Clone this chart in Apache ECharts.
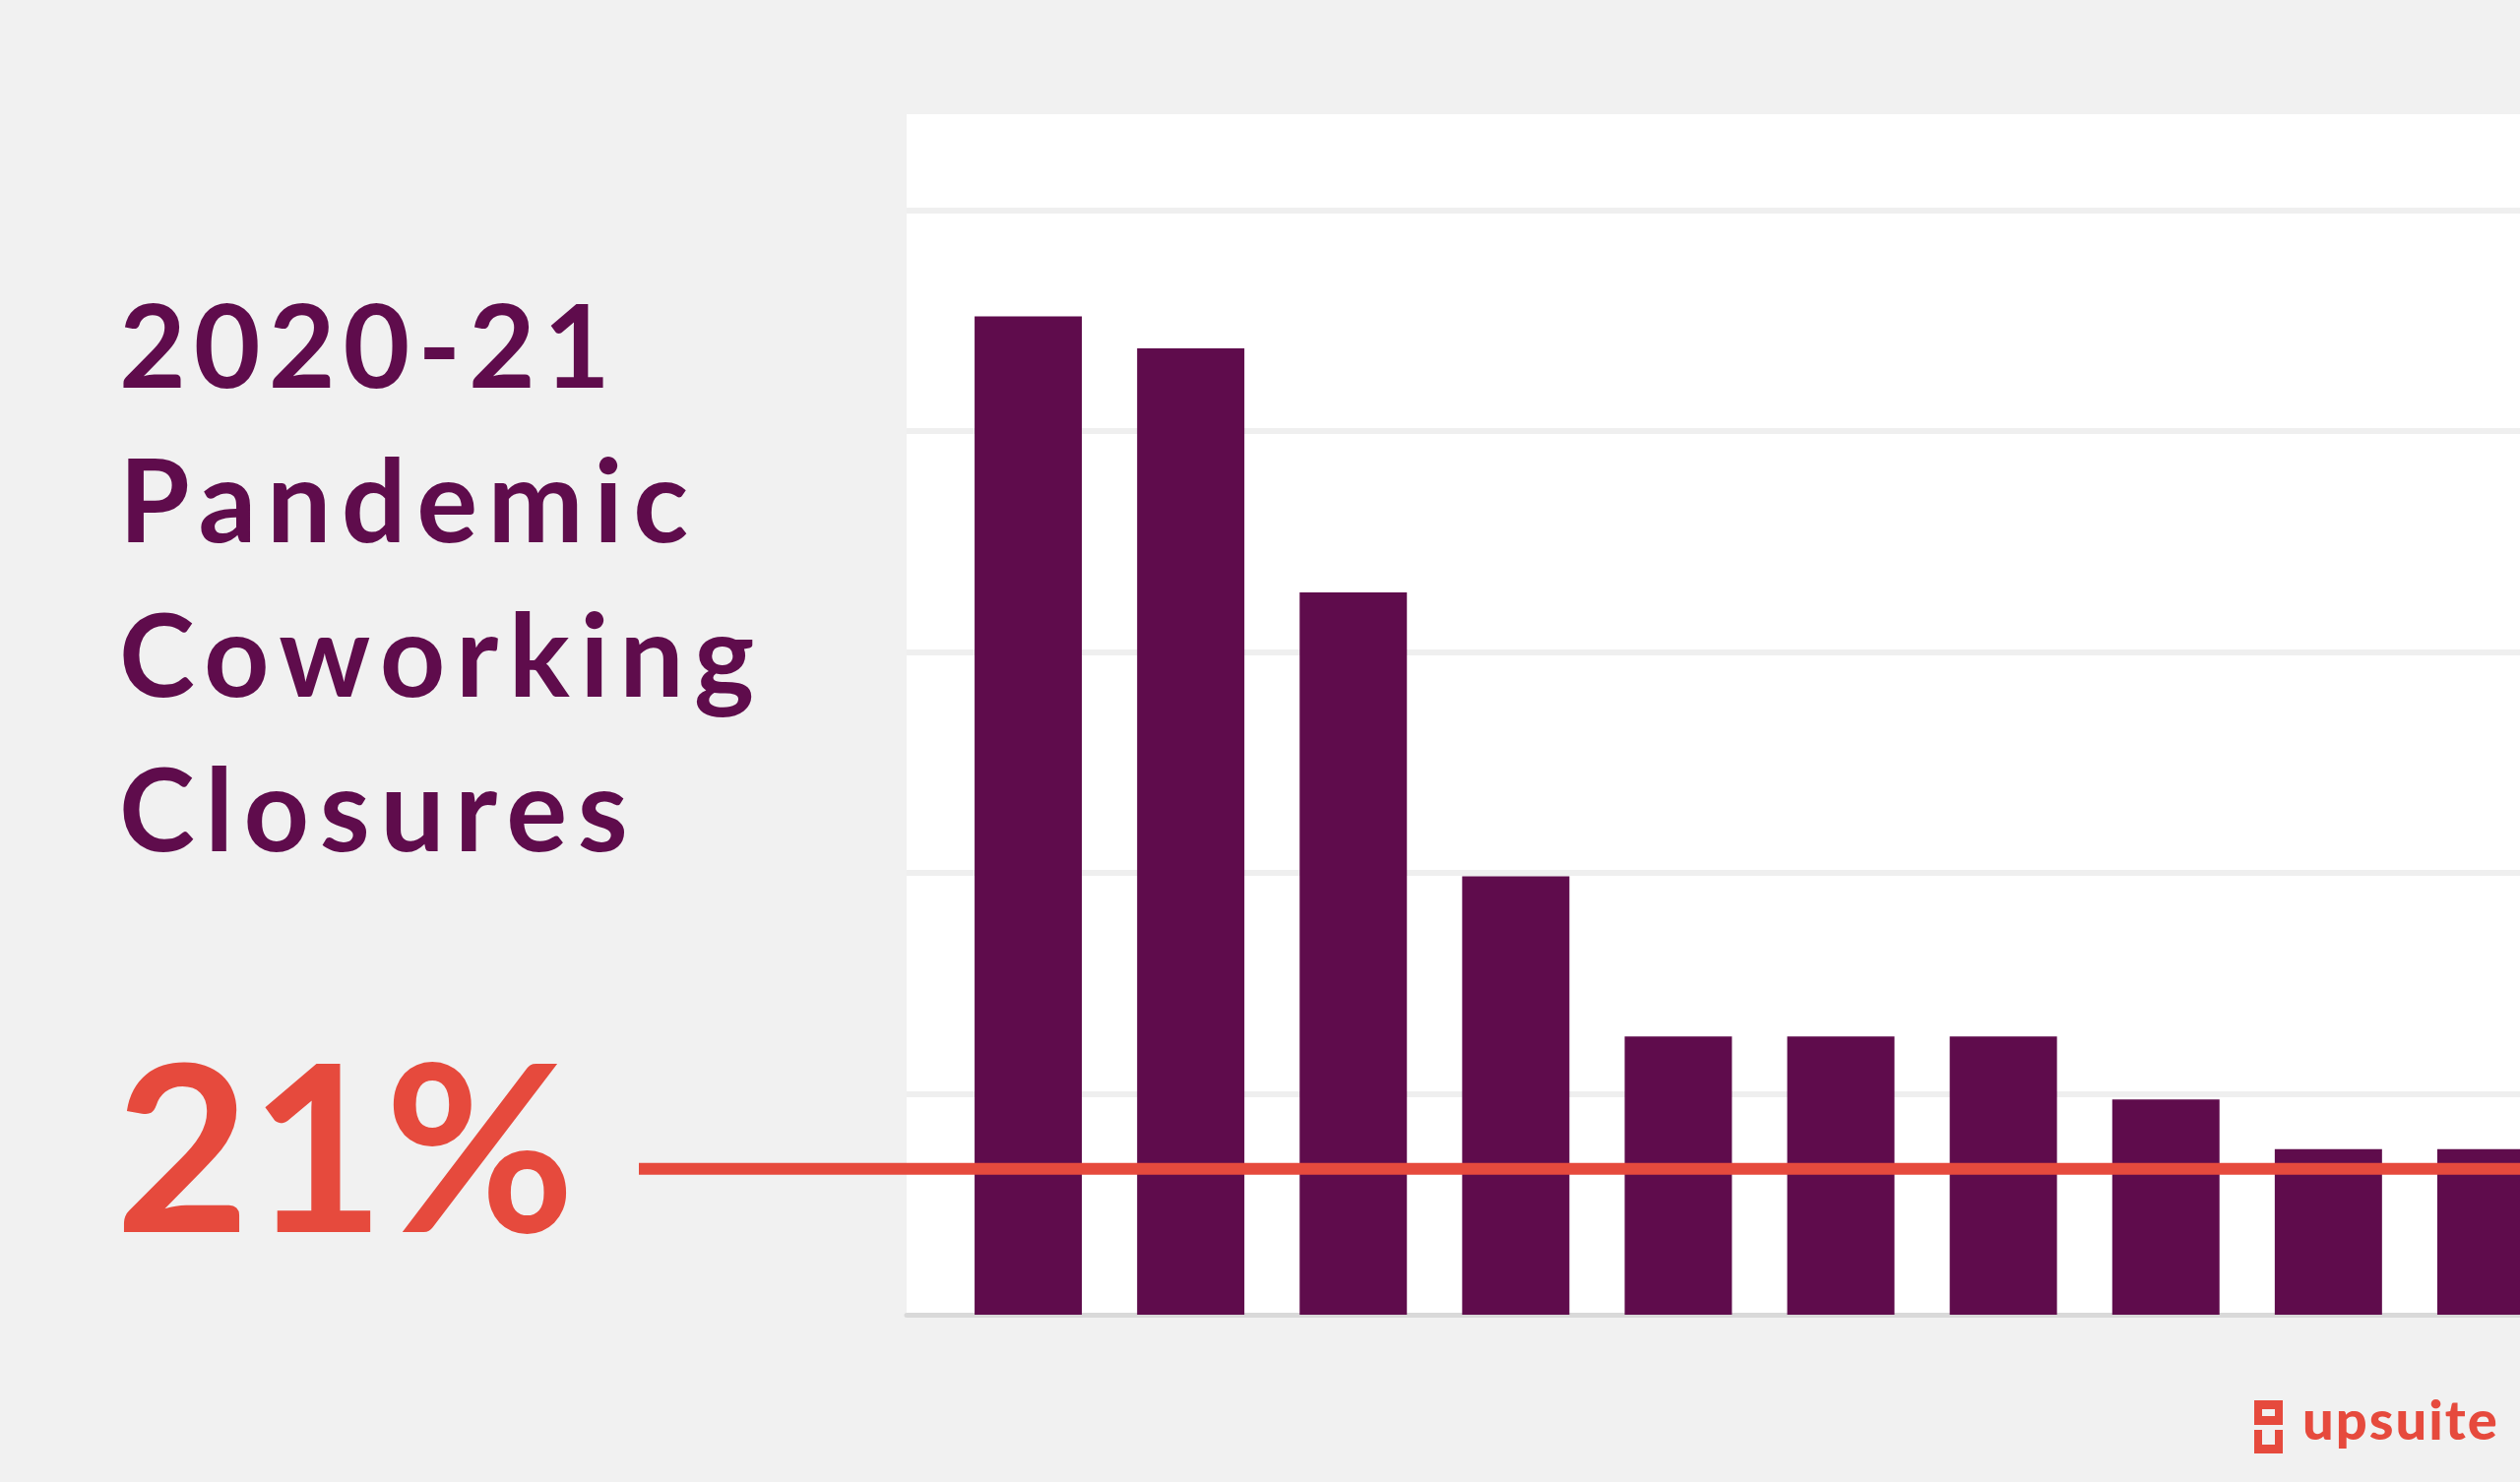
<!DOCTYPE html>
<html>
<head>
<meta charset="utf-8">
<script src="https://cdn.jsdelivr.net/npm/echarts@6/dist/echarts.min.js"></script>
<style>
  html, body { margin: 0; padding: 0; background: #f1f1f1; }
  #chart { width: 2560px; height: 1506px; }
  #chart text[style*="117px"] { letter-spacing: 8px; }
  #chart text[style*="116px"] { letter-spacing: 10.5px; }
  #chart text[style*="56px"] { letter-spacing: 2px; }
</style>
</head>
<body>
<div id="chart"></div>
<script>
// ---- data ----
const categories = ['1', '2', '3', '4', '5', '6', '7', '8', '9', '10'];
const closures = [90.4, 87.5, 65.4, 39.7, 25.2, 25.2, 25.2, 19.5, 15, 15];
const yMin = 0;
const yMax = 108.7;
const yStep = 20;
const markerLevel = 13.2;
const titleLines = ['2020-21', 'Pandemic', 'Coworking', 'Closures'];
const headline = '21%';
const brand = 'upsuite';

// ---- styles ----
const PURPLE = '#5F0C4C';
const RED = '#E64A3D';
const BG = '#F1F1F1';
const GRIDLINE = '#EFEFEF';
const AXIS = '#D9D9D9';
const FONT = 'Lato, "Open Sans", sans-serif';

const chart = echarts.init(document.getElementById('chart'), null, { renderer: 'svg' });

const hiddenY = { type: 'value', min: yMin, max: yMax, interval: yStep, show: false };

const titleGraphics = titleLines.map((t, i) => ({
  type: 'text',
  x: 121,
  y: 349 + i * 157.2,
  style: {
    text: t,
    fill: PURPLE,
    fontFamily: FONT,
    fontWeight: 'bold',
    fontSize: i === 0 ? 117 : 116,
    verticalAlign: 'middle',
    align: 'left'
  },
  z: 10
}));

const logoRects = [
  [2290, 1423, 29, 9],
  [2290, 1439, 29, 9],
  [2290, 1423, 8, 25],
  [2311, 1423, 8, 25],
  [2290, 1453, 8, 24],
  [2311, 1453, 8, 24],
  [2290, 1468, 29, 9]
].map(r => ({
  type: 'rect',
  shape: { x: r[0], y: r[1], width: r[2], height: r[3] },
  style: { fill: RED },
  z: 10
}));

const option = {
  backgroundColor: BG,
  animation: false,
  grid: [
    { left: 921, top: 116, right: 0, bottom: 170, show: true, backgroundColor: '#FFFFFF', borderWidth: 0, outerBoundsMode: 'none' },
    { left: 962, top: 116, width: 1651, bottom: 170, outerBoundsMode: 'none' },
    { left: 649, top: 116, right: 0, bottom: 170, outerBoundsMode: 'none' }
  ],
  xAxis: [
    {
      gridIndex: 0, type: 'category', data: categories, offset: 3,
      axisLine: { show: true, lineStyle: { color: AXIS, width: 5 } },
      axisTick: { show: false }, axisLabel: { show: false }, splitLine: { show: false }
    },
    { gridIndex: 1, type: 'category', data: categories, show: false },
    { gridIndex: 2, type: 'value', min: 0, max: 1, show: false }
  ],
  yAxis: [
    {
      gridIndex: 0, type: 'value', min: yMin, max: yMax, interval: yStep,
      axisLine: { show: false }, axisTick: { show: false }, axisLabel: { show: false },
      splitLine: { show: true, showMinLine: false, showMaxLine: false, lineStyle: { color: GRIDLINE, width: 6 } }
    },
    Object.assign({ gridIndex: 1 }, hiddenY),
    Object.assign({ gridIndex: 2 }, hiddenY)
  ],
  series: [
    {
      type: 'bar', xAxisIndex: 1, yAxisIndex: 1, data: closures,
      barWidth: '66%', itemStyle: { color: PURPLE }, z: 3, silent: true
    },
    {
      type: 'line', xAxisIndex: 2, yAxisIndex: 2,
      data: [[0, markerLevel], [1, markerLevel]],
      symbol: 'none', lineStyle: { color: RED, width: 12, cap: 'butt' }, z: 5, silent: true
    }
  ],
  graphic: titleGraphics.concat([
    {
      type: 'text', x: 117, y: 1160,
      style: { text: headline, fill: RED, fontFamily: FONT, fontWeight: 'bold', fontSize: 236, verticalAlign: 'middle', align: 'left' },
      z: 10
    },
    {
      type: 'text', x: 2339, y: 1441,
      style: { text: brand, fill: RED, fontFamily: FONT, fontWeight: 900, fontSize: 56, verticalAlign: 'middle', align: 'left' },
      z: 10
    }
  ]).concat(logoRects)
};

chart.setOption(option);
</script>
</body>
</html>
